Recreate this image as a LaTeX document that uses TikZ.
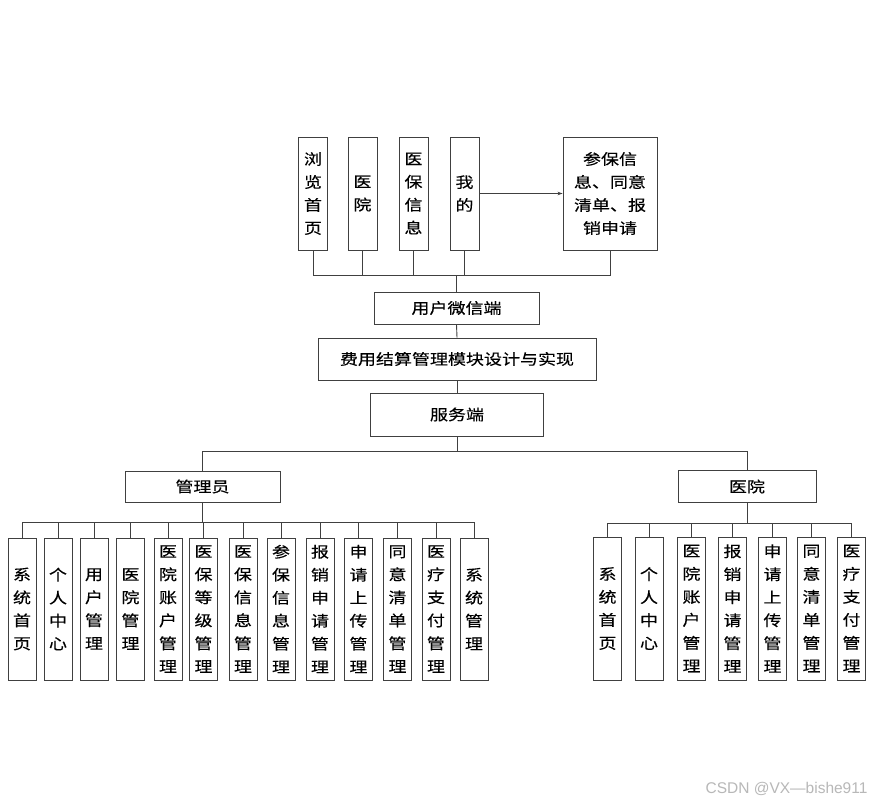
\documentclass[tikz,border=0pt]{standalone}
\usepackage{fontspec}
\newfontfamily\cjk[FakeStretch=1.2,FakeBold=0.3]{Noto Sans CJK SC}
\setsansfont{Liberation Sans}
\usetikzlibrary{arrows.meta}
\begin{document}
\begin{tikzpicture}[x=1pt,y=-1pt,
  box/.style={draw=black!75, line width=0.9pt, inner sep=0pt, fill=white,
    font=\cjk\fontsize{15}{23}\selectfont, align=center},
  vbox/.style={box, minimum width=28pt, minimum height=142pt},
  tbox/.style={box, minimum width=29pt, minimum height=113pt},
  conn/.style={draw=black!75, line width=0.9pt}]
\useasboundingbox[fill=white] (0,0) rectangle (877,803);

% top row
\node[tbox] (t1) at (313,193.5) {浏\\览\\首\\页};
\node[tbox] (t2) at (362.5,193.5) {医\\院};
\node[tbox] (t3) at (413.5,193.5) {医\\保\\信\\息};
\node[tbox] (t4) at (464.5,193.5) {我\\的};
\node[box, minimum width=94pt, minimum height=113pt] (t5) at (610,193.5) {参保信\\息、同意\\清单、报\\销申请};

% center column
\node[box, minimum width=165pt, minimum height=32pt] (user) at (456.5,308) {用户微信端};
\node[box, minimum width=278pt, minimum height=42pt] (main) at (457,359) {费用结算管理模块设计与实现};
\node[box, minimum width=173pt, minimum height=43pt] (server) at (457,414.5) {服务端};
\node[box, minimum width=155pt, minimum height=31pt] (admin) at (202.5,486.5) {管理员};
\node[box, minimum width=138pt, minimum height=32pt] (hosp) at (747,486.5) {医院};

% admin children
\node[vbox] (l1) at (22,609) {系\\统\\首\\页};
\node[vbox] (l2) at (58,609) {个\\人\\中\\心};
\node[vbox] (l3) at (94,609) {用\\户\\管\\理};
\node[vbox] (l4) at (130.5,609) {医\\院\\管\\理};
\node[vbox] (l5) at (168,609) {医\\院\\账\\户\\管\\理};
\node[vbox] (l6) at (203.5,609) {医\\保\\等\\级\\管\\理};
\node[vbox] (l7) at (243,609) {医\\保\\信\\息\\管\\理};
\node[vbox] (l8) at (281,609) {参\\保\\信\\息\\管\\理};
\node[vbox] (l9) at (320,609) {报\\销\\申\\请\\管\\理};
\node[vbox] (l10) at (358.5,609) {申\\请\\上\\传\\管\\理};
\node[vbox] (l11) at (397.5,609) {同\\意\\清\\单\\管\\理};
\node[vbox] (l12) at (436,609) {医\\疗\\支\\付\\管\\理};
\node[vbox] (l13) at (474,609) {系\\统\\管\\理};

% hospital children
\node[vbox, minimum height=143pt] (r1) at (607.5,608.5) {系\\统\\首\\页};
\node[vbox, minimum height=143pt] (r2) at (649,608.5) {个\\人\\中\\心};
\node[vbox, minimum height=143pt] (r3) at (691.5,608.5) {医\\院\\账\\户\\管\\理};
\node[vbox, minimum height=143pt] (r4) at (732.5,608.5) {报\\销\\申\\请\\管\\理};
\node[vbox, minimum height=143pt] (r5) at (772.5,608.5) {申\\请\\上\\传\\管\\理};
\node[vbox, minimum height=143pt] (r6) at (811.5,608.5) {同\\意\\清\\单\\管\\理};
\node[vbox, minimum height=143pt] (r7) at (851.5,608.5) {医\\疗\\支\\付\\管\\理};

% connectors
\foreach \n in {t1,t2,t3,t4,t5}
  \draw[conn] (\n.south) -- ++(0,25) -| (user.north);
\draw[conn, -{Stealth[length=5pt,width=3.5pt]}] (t4.east) -- (t5.west);
\draw[conn] (user.south) -- (main.north);
\draw[conn] (main.south) -- (server.north);
\foreach \n in {admin,hosp}
  \draw[conn] (server.south) -- ++(0,15) -| (\n.north);
\foreach \n in {l1,l2,l3,l4,l5,l6,l7,l8,l9,l10,l11,l12,l13}
  \draw[conn] (admin.south) -- ++(0,20) -| (\n.north);
\foreach \n in {r1,r2,r3,r4,r5,r6,r7}
  \draw[conn] (hosp.south) -- ++(0,20) -| (\n.north);

\node[font=\sffamily\fontsize{15.5}{17}\selectfont, text=black!28, anchor=east] (wm) at (871,789) {CSDN @VX—bishe911};
\end{tikzpicture}
\end{document}
